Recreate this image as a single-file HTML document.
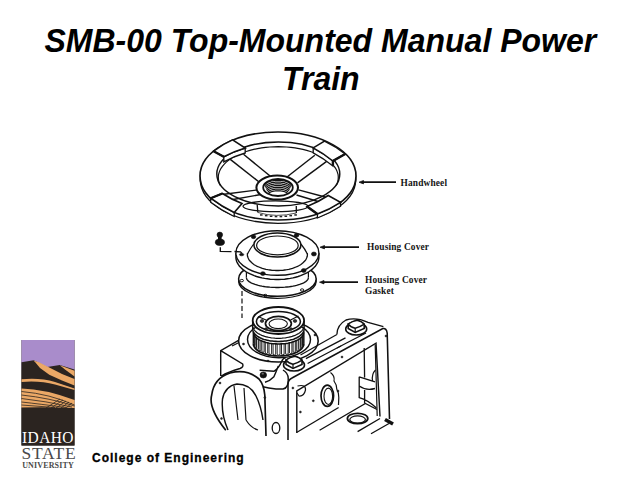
<!DOCTYPE html>
<html><head><meta charset="utf-8">
<style>
html,body{margin:0;padding:0;background:#fff;}
body{width:638px;height:479px;position:relative;overflow:hidden;font-family:"Liberation Sans",sans-serif;}
.t{position:absolute;white-space:nowrap;color:#000;}
#t1{left:44.5px;top:22px;font-size:32px;font-weight:bold;font-style:italic;transform:scaleY(1.05);transform-origin:0 7px;}
#t2{left:282px;top:60px;font-size:32px;font-weight:bold;font-style:italic;transform:scaleY(1.05);transform-origin:0 7px;}
#foot{left:92px;top:451.3px;font-size:12px;font-weight:bold;letter-spacing:1px;-webkit-text-stroke:0.3px #000;}
.lb{position:absolute;white-space:nowrap;font-family:"Liberation Serif",serif;font-weight:bold;font-size:9.4px;letter-spacing:0.15px;color:#151515;}
</style></head><body>
<div class="t" id="t1">SMB-00 Top-Mounted Manual Power</div>
<div class="t" id="t2">Train</div>
<svg width="638" height="479" viewBox="0 0 638 479" style="position:absolute;left:0;top:0"><ellipse cx="278" cy="179.5" rx="77.7" ry="43.8" fill="#fff" stroke="#111" stroke-width="1.32"/>
<ellipse cx="278" cy="176" rx="78" ry="44" fill="#fff" stroke="#111" stroke-width="1.68"/>
<ellipse cx="278.3" cy="174" rx="61.5" ry="32" fill="none" stroke="#111" stroke-width="1.44"/>
<path d="M220.3,185.5 L219.4,183.4 L218.7,181.2 L218.4,179.1 L218.3,176.9 L218.5,174.7 L219.1,172.6 L219.9,170.4 L221.0,168.3 L222.4,166.3 L224.1,164.3 L226.0,162.4 L228.2,160.5 L230.7,158.8 L233.4,157.1 L236.3,155.5 L239.4,154.0 L242.7,152.7 L246.2,151.5 L249.9,150.4 L253.7,149.4 L257.6,148.6 L261.6,147.9 L265.7,147.4 L269.9,147.0 L274.1,146.8 L278.3,146.7 L282.5,146.8 L286.7,147.0 L290.9,147.4 L295.0,147.9 L299.0,148.6 L302.9,149.4 L306.7,150.4 L310.4,151.5 L313.9,152.7 L317.2,154.0 L320.3,155.5 L323.2,157.1 L325.9,158.8 L328.4,160.5 L330.6,162.4 L332.5,164.3 L334.2,166.3 L335.6,168.3 L336.7,170.4 L337.5,172.6 L338.1,174.7 L338.3,176.9 L338.2,179.1 L337.9,181.2 L337.2,183.4 L336.3,185.5" fill="none" stroke="#111" stroke-width="1.20" />
<path d="M230.3,159.4 L258.8,181.8" fill="none" stroke="#111" stroke-width="1.44" />
<path d="M243.5,154.3 L271,176.7" fill="none" stroke="#111" stroke-width="1.44" />
<path d="M314.8,155.3 L287.3,176.7" fill="none" stroke="#111" stroke-width="1.44" />
<path d="M328,160.4 L297.5,182.8" fill="none" stroke="#111" stroke-width="1.44" />
<path d="M222,194.5 L257.8,189.9" fill="none" stroke="#111" stroke-width="1.44" />
<path d="M230.3,200 L260.8,194.5" fill="none" stroke="#111" stroke-width="1.44" />
<path d="M298.5,189.9 L325,197" fill="none" stroke="#111" stroke-width="1.44" />
<path d="M296.5,195 L318,201.5" fill="none" stroke="#111" stroke-width="1.44" />
<path d="M223.8,156.8 Q234.0,151.3 245.2,148 L245.2,153 Q234.0,156.3 223.8,161.8 Z" fill="#fff" stroke="#111" stroke-width="1.32" />
<path d="M213.6,151.2 Q222.3,144.3 232.6,139.9 L245.2,148 Q234.0,151.3 223.8,156.8 Z" fill="#fff" stroke="#111" stroke-width="1.56" />
<path d="M313.2,147.9 Q323.7,153.5 332.9,161 L332.9,166 Q323.7,158.5 313.2,152.9 Z" fill="#fff" stroke="#111" stroke-width="1.32" />
<path d="M324.5,141.1 Q335.6,146.3 345.2,154 L332.9,161 Q323.7,153.5 313.2,147.9 Z" fill="#fff" stroke="#111" stroke-width="1.56" />
<path d="M340.5,202.3 Q329.6,209.5 317.4,214 L317.4,218 Q329.6,213.5 340.5,206.3 Z" fill="#fff" stroke="#111" stroke-width="1.32" />
<path d="M340.5,202.3 Q329.6,209.5 317.4,214 L307,206.5 Q318.2,202.1 328.2,195.5 Z" fill="#fff" stroke="#111" stroke-width="1.56" />
<path d="M234.2,212.5 Q221.7,206.6 210.7,198.2 L210.7,202.2 Q221.7,210.6 234.2,216.5 Z" fill="#fff" stroke="#111" stroke-width="1.32" />
<path d="M234.2,212.5 Q221.7,206.6 210.7,198.2 L222.4,193.5 Q231.7,199.6 242,203.5 Z" fill="#fff" stroke="#111" stroke-width="1.56" />
<path d="M345.2,154 L332.9,161 L332.9,165" fill="none" stroke="#111" stroke-width="2.40" />
<path d="M213.6,151.2 L223.8,156.8" fill="none" stroke="#111" stroke-width="2.16" />
<path d="M210.7,198.2 L222.4,193.5" fill="none" stroke="#111" stroke-width="2.16" />
<path d="M317.4,214 L307,206.5" fill="none" stroke="#111" stroke-width="2.40" />
<ellipse cx="275.5" cy="206.3" rx="32.5" ry="5.4" fill="none" stroke="#111" stroke-width="1.32"/>
<path d="M257.2,204.5 L257.8,212.5 M296.3,206 L296.3,213" fill="none" stroke="#111" stroke-width="1.32" />
<path d="M258,212.5 Q276,218 296.3,213" fill="none" stroke="#111" stroke-width="0.72" />
<rect x="260.0" y="214.2" width="2.6" height="1.5" fill="#222"/>
<rect x="264.9" y="214.9" width="2.6" height="1.5" fill="#222"/>
<rect x="269.8" y="215.5" width="2.6" height="1.5" fill="#222"/>
<rect x="274.7" y="215.8" width="2.6" height="1.5" fill="#222"/>
<rect x="279.6" y="215.8" width="2.6" height="1.5" fill="#222"/>
<rect x="284.5" y="215.5" width="2.6" height="1.5" fill="#222"/>
<rect x="289.4" y="214.9" width="2.6" height="1.5" fill="#222"/>
<rect x="294.3" y="214.2" width="2.6" height="1.5" fill="#222"/>
<ellipse cx="277.2" cy="187.6" rx="20.8" ry="12" fill="#fff" stroke="#111" stroke-width="2.04"/>
<ellipse cx="278" cy="187.5" rx="14.8" ry="8.5" fill="#fff" stroke="#111" stroke-width="1.80"/>
<path d="M264.4,185.4 L264.6,185.0 L264.9,184.6 L265.2,184.2 L265.6,183.8 L266.0,183.4 L266.6,183.0 L267.1,182.7 L267.7,182.4 L268.4,182.0 L269.1,181.8 L269.9,181.5 L270.7,181.2 L271.5,181.0 L272.4,180.8 L273.3,180.7 L274.2,180.5 L275.1,180.4 L276.1,180.4 L277.0,180.3 L278.0,180.3 L279.0,180.3 L279.9,180.4 L280.9,180.4 L281.8,180.5 L282.7,180.7 L283.6,180.8 L284.5,181.0 L285.3,181.2 L286.1,181.5 L286.9,181.8 L287.6,182.0 L288.3,182.4 L288.9,182.7 L289.4,183.0 L290.0,183.4 L290.4,183.8 L290.8,184.2 L291.1,184.6 L291.4,185.0 L291.6,185.4" fill="none" stroke="#111" stroke-width="1.20" />
<path d="M265.1,186.8 L265.3,186.4 L265.5,186.0 L265.9,185.6 L266.2,185.3 L266.7,184.9 L267.1,184.6 L267.7,184.3 L268.3,184.0 L268.9,183.7 L269.6,183.4 L270.3,183.1 L271.1,182.9 L271.8,182.7 L272.7,182.5 L273.5,182.4 L274.4,182.3 L275.3,182.2 L276.2,182.1 L277.1,182.1 L278.0,182.1 L278.9,182.1 L279.8,182.1 L280.7,182.2 L281.6,182.3 L282.5,182.4 L283.3,182.5 L284.2,182.7 L284.9,182.9 L285.7,183.1 L286.4,183.4 L287.1,183.7 L287.7,184.0 L288.3,184.3 L288.9,184.6 L289.3,184.9 L289.8,185.3 L290.1,185.6 L290.5,186.0 L290.7,186.4 L290.9,186.8" fill="none" stroke="#111" stroke-width="1.20" />
<path d="M265.8,188.2 L266.0,187.8 L266.2,187.5 L266.5,187.1 L266.9,186.8 L267.3,186.4 L267.7,186.1 L268.2,185.8 L268.8,185.6 L269.4,185.3 L270.0,185.0 L270.7,184.8 L271.4,184.6 L272.2,184.4 L273.0,184.3 L273.8,184.1 L274.6,184.0 L275.4,183.9 L276.3,183.9 L277.1,183.8 L278.0,183.8 L278.9,183.8 L279.7,183.9 L280.6,183.9 L281.4,184.0 L282.2,184.1 L283.0,184.3 L283.8,184.4 L284.6,184.6 L285.3,184.8 L286.0,185.0 L286.6,185.3 L287.2,185.6 L287.8,185.8 L288.3,186.1 L288.7,186.4 L289.1,186.8 L289.5,187.1 L289.8,187.5 L290.0,187.8 L290.2,188.2" fill="none" stroke="#111" stroke-width="1.20" />
<path d="M266.5,189.6 L266.6,189.2 L266.9,188.9 L267.2,188.6 L267.5,188.3 L267.9,188.0 L268.3,187.7 L268.8,187.4 L269.3,187.2 L269.9,186.9 L270.5,186.7 L271.1,186.5 L271.8,186.3 L272.5,186.1 L273.2,186.0 L274.0,185.8 L274.8,185.7 L275.6,185.7 L276.4,185.6 L277.2,185.6 L278.0,185.6 L278.8,185.6 L279.6,185.6 L280.4,185.7 L281.2,185.7 L282.0,185.8 L282.8,186.0 L283.5,186.1 L284.2,186.3 L284.9,186.5 L285.5,186.7 L286.1,186.9 L286.7,187.2 L287.2,187.4 L287.7,187.7 L288.1,188.0 L288.5,188.3 L288.8,188.6 L289.1,188.9 L289.4,189.2 L289.5,189.6" fill="none" stroke="#111" stroke-width="1.20" />
<path d="M267.2,190.9 L267.3,190.6 L267.5,190.3 L267.8,190.1 L268.1,189.8 L268.5,189.5 L268.9,189.2 L269.3,189.0 L269.8,188.8 L270.4,188.5 L270.9,188.3 L271.5,188.1 L272.2,188.0 L272.8,187.8 L273.5,187.7 L274.2,187.6 L275.0,187.5 L275.7,187.4 L276.5,187.3 L277.2,187.3 L278.0,187.3 L278.8,187.3 L279.5,187.3 L280.3,187.4 L281.0,187.5 L281.8,187.6 L282.5,187.7 L283.2,187.8 L283.8,188.0 L284.5,188.1 L285.1,188.3 L285.6,188.5 L286.2,188.8 L286.7,189.0 L287.1,189.2 L287.5,189.5 L287.9,189.8 L288.2,190.1 L288.5,190.3 L288.7,190.6 L288.8,190.9" fill="none" stroke="#111" stroke-width="1.20" />
<path d="M267.9,192.3 L268.0,192.0 L268.2,191.8 L268.5,191.5 L268.7,191.3 L269.1,191.0 L269.5,190.8 L269.9,190.6 L270.3,190.4 L270.8,190.2 L271.4,190.0 L271.9,189.8 L272.5,189.7 L273.2,189.5 L273.8,189.4 L274.5,189.3 L275.2,189.2 L275.9,189.1 L276.6,189.1 L277.3,189.1 L278.0,189.1 L278.7,189.1 L279.4,189.1 L280.1,189.1 L280.8,189.2 L281.5,189.3 L282.2,189.4 L282.8,189.5 L283.5,189.7 L284.1,189.8 L284.6,190.0 L285.2,190.2 L285.7,190.4 L286.1,190.6 L286.5,190.8 L286.9,191.0 L287.3,191.3 L287.5,191.5 L287.8,191.8 L288.0,192.0 L288.1,192.3" fill="none" stroke="#111" stroke-width="1.20" />
<path d="M268.5,193.7 L268.7,193.5 L268.9,193.2 L269.1,193.0 L269.4,192.8 L269.7,192.6 L270.0,192.3 L270.4,192.1 L270.9,192.0 L271.3,191.8 L271.8,191.6 L272.4,191.5 L272.9,191.3 L273.5,191.2 L274.1,191.1 L274.7,191.0 L275.4,190.9 L276.0,190.9 L276.7,190.8 L277.3,190.8 L278.0,190.8 L278.7,190.8 L279.3,190.8 L280.0,190.9 L280.6,190.9 L281.3,191.0 L281.9,191.1 L282.5,191.2 L283.1,191.3 L283.6,191.5 L284.2,191.6 L284.7,191.8 L285.1,192.0 L285.6,192.1 L286.0,192.3 L286.3,192.6 L286.6,192.8 L286.9,193.0 L287.1,193.2 L287.3,193.5 L287.5,193.7" fill="none" stroke="#111" stroke-width="1.20" />
<path d="M220.7,376 L220.7,350.7 L238.5,340.5 L244,338 M220.7,350.7 L242.6,363.9 Q244,367 240,368.5 Q228,372 221.3,376" fill="#fff" stroke="#111" stroke-width="1.44" />
<path d="M232,346 L240,342" fill="none" stroke="#111" stroke-width="1.32" />
<path d="M244,338 Q246,333 252,331" fill="none" stroke="#111" stroke-width="1.20" />
<ellipse cx="278.4" cy="341" rx="39.8" ry="21" fill="#fff" stroke="#111" stroke-width="1.56"/>
<ellipse cx="279" cy="339.5" rx="31.5" ry="18.3" fill="#fff" stroke="#111" stroke-width="1.44"/>
<ellipse cx="243.5" cy="344" rx="1.1" ry="0.9" fill="#222" stroke="#111" stroke-width="0.48"/>
<ellipse cx="315" cy="335" rx="1.1" ry="0.9" fill="#222" stroke="#111" stroke-width="0.48"/>
<ellipse cx="268" cy="361" rx="1.1" ry="0.9" fill="#222" stroke="#111" stroke-width="0.48"/>
<ellipse cx="301" cy="359" rx="1.1" ry="0.9" fill="#222" stroke="#111" stroke-width="0.48"/>
<path d="M303.9,343.5 L303.8,344.4 L303.7,345.2 L303.3,346.1 L302.9,346.9 L302.4,347.8 L301.7,348.6 L300.9,349.4 L300.1,350.1 L299.1,350.8 L298.0,351.5 L296.8,352.2 L295.5,352.8 L294.2,353.4 L292.7,353.9 L291.2,354.3 L289.7,354.7 L288.1,355.1 L286.4,355.4 L284.7,355.6 L283.0,355.8 L281.2,355.9 L279.5,356.0 L277.7,356.0 L276.0,355.9 L274.2,355.8 L272.5,355.6 L270.8,355.4 L269.1,355.1 L267.5,354.7 L266.0,354.3 L264.5,353.9 L263.0,353.4 L261.7,352.8 L260.4,352.2 L259.2,351.5 L258.1,350.8 L257.1,350.1 L256.3,349.4 L255.5,348.6 L254.8,347.8 L254.3,346.9 L253.9,346.1 L253.5,345.2 L253.4,344.4 L253.3,343.5" fill="#fff" stroke="#111" stroke-width="1.68" />
<path d="M253.3,331.5 L253.3,343.5 M303.9,331.5 L303.9,343.5" fill="none" stroke="#111" stroke-width="1.32" />
<path d="M302.4,334.9 L302.4,345.0 Q302.9,346.2 303.3,345.0 L303.3,334.9" fill="none" stroke="#111" stroke-width="0.90" />
<path d="M301.0,336.8 L301.0,346.9 Q301.6,348.1 302.3,346.9 L302.3,336.8" fill="none" stroke="#111" stroke-width="0.90" />
<path d="M298.9,338.5 L298.9,348.8 Q299.7,350.0 300.6,348.8 L300.6,338.5" fill="none" stroke="#111" stroke-width="0.90" />
<path d="M296.3,340.1 L296.3,350.4 Q297.2,351.6 298.2,350.4 L298.2,340.1" fill="none" stroke="#111" stroke-width="0.90" />
<path d="M293.1,341.4 L293.1,351.8 Q294.2,353.0 295.3,351.8 L295.3,341.4" fill="none" stroke="#111" stroke-width="0.90" />
<path d="M289.5,342.5 L289.5,353.0 Q290.7,354.2 291.9,353.0 L291.9,342.5" fill="none" stroke="#111" stroke-width="0.90" />
<path d="M285.6,343.3 L285.6,353.8 Q286.9,355.0 288.2,353.8 L288.2,343.3" fill="none" stroke="#111" stroke-width="0.90" />
<path d="M281.5,343.8 L281.5,354.3 Q282.8,355.5 284.1,354.3 L284.1,343.8" fill="none" stroke="#111" stroke-width="0.90" />
<path d="M277.2,344.0 L277.2,354.5 Q278.6,355.7 280.0,354.5 L280.0,344.0" fill="none" stroke="#111" stroke-width="0.90" />
<path d="M273.1,343.8 L273.1,354.3 Q274.4,355.5 275.7,354.3 L275.7,343.8" fill="none" stroke="#111" stroke-width="0.90" />
<path d="M269.0,343.3 L269.0,353.8 Q270.3,355.0 271.6,353.8 L271.6,343.3" fill="none" stroke="#111" stroke-width="0.90" />
<path d="M265.3,342.5 L265.3,353.0 Q266.5,354.2 267.7,353.0 L267.7,342.5" fill="none" stroke="#111" stroke-width="0.90" />
<path d="M261.9,341.4 L261.9,351.8 Q263.0,353.0 264.1,351.8 L264.1,341.4" fill="none" stroke="#111" stroke-width="0.90" />
<path d="M259.0,340.1 L259.0,350.4 Q260.0,351.6 260.9,350.4 L260.9,340.1" fill="none" stroke="#111" stroke-width="0.90" />
<path d="M256.6,338.5 L256.6,348.8 Q257.5,350.0 258.3,348.8 L258.3,338.5" fill="none" stroke="#111" stroke-width="0.90" />
<path d="M254.9,336.8 L254.9,346.9 Q255.6,348.1 256.2,346.9 L256.2,336.8" fill="none" stroke="#111" stroke-width="0.90" />
<path d="M253.9,334.9 L253.9,345.0 Q254.3,346.2 254.8,345.0 L254.8,334.9" fill="none" stroke="#111" stroke-width="0.90" />
<path d="M303.6,332.5 L303.5,333.3 L303.4,334.1 L303.1,334.9 L302.6,335.7 L302.1,336.4 L301.4,337.2 L300.7,337.9 L299.8,338.6 L298.8,339.3 L297.8,339.9 L296.6,340.5 L295.3,341.0 L294.0,341.6 L292.6,342.0 L291.1,342.5 L289.6,342.8 L288.0,343.2 L286.3,343.4 L284.6,343.7 L282.9,343.8 L281.2,343.9 L279.5,344.0 L277.7,344.0 L276.0,343.9 L274.3,343.8 L272.6,343.7 L270.9,343.4 L269.2,343.2 L267.6,342.8 L266.1,342.5 L264.6,342.0 L263.2,341.6 L261.9,341.0 L260.6,340.5 L259.4,339.9 L258.4,339.3 L257.4,338.6 L256.5,337.9 L255.8,337.2 L255.1,336.4 L254.6,335.7 L254.1,334.9 L253.8,334.1 L253.7,333.3 L253.6,332.5" fill="none" stroke="#111" stroke-width="1.56" />
<path d="M304.1,329.0 L304.0,329.9 L303.8,330.7 L303.5,331.6 L303.1,332.4 L302.6,333.3 L301.9,334.1 L301.1,334.9 L300.2,335.6 L299.2,336.3 L298.1,337.0 L296.9,337.7 L295.6,338.3 L294.2,338.9 L292.8,339.4 L291.2,339.8 L289.7,340.2 L288.0,340.6 L286.3,340.9 L284.6,341.1 L282.9,341.3 L281.1,341.4 L279.3,341.5 L277.5,341.5 L275.7,341.4 L273.9,341.3 L272.2,341.1 L270.5,340.9 L268.8,340.6 L267.1,340.2 L265.5,339.8 L264.0,339.4 L262.6,338.9 L261.2,338.3 L259.9,337.7 L258.7,337.0 L257.6,336.3 L256.6,335.6 L255.7,334.9 L254.9,334.1 L254.2,333.3 L253.7,332.4 L253.3,331.6 L253.0,330.7 L252.8,329.9 L252.7,329.0" fill="#fff" stroke="#111" stroke-width="1.56" />
<path d="M252.7,320.5 L252.7,329 M304.1,320.5 L304.1,329" fill="none" stroke="#111" stroke-width="1.44" />
<path d="M303.8,327.1 L303.6,327.9 L303.2,328.8 L302.8,329.6 L302.2,330.4 L301.5,331.2 L300.6,332.0 L299.7,332.8 L298.7,333.5 L297.5,334.1 L296.3,334.8 L295.0,335.4 L293.5,335.9 L292.1,336.4 L290.5,336.8 L288.9,337.2 L287.2,337.5 L285.5,337.8 L283.8,338.0 L282.0,338.2 L280.2,338.3 L278.4,338.3 L276.6,338.3 L274.8,338.2 L273.0,338.0 L271.3,337.8 L269.6,337.5 L267.9,337.2 L266.3,336.8 L264.7,336.4 L263.3,335.9 L261.8,335.4 L260.5,334.8 L259.3,334.1 L258.1,333.5 L257.1,332.8 L256.2,332.0 L255.3,331.2 L254.6,330.4 L254.0,329.6 L253.6,328.8 L253.2,327.9 L253.0,327.1" fill="none" stroke="#111" stroke-width="1.20" />
<ellipse cx="278.4" cy="320.5" rx="25.7" ry="13.5" fill="#fff" stroke="#111" stroke-width="1.80"/>
<ellipse cx="278.4" cy="321.5" rx="22" ry="10" fill="none" stroke="#111" stroke-width="1.56"/>
<ellipse cx="278.4" cy="323.5" rx="13" ry="7.2" fill="none" stroke="#111" stroke-width="1.68"/>
<ellipse cx="278.2" cy="323.8" rx="9.2" ry="4.8" fill="none" stroke="#111" stroke-width="1.08"/>
<ellipse cx="262" cy="321" rx="1.8" ry="1.4400000000000002" fill="#333" stroke="#111" stroke-width="0.60"/>
<ellipse cx="295" cy="321" rx="1.8" ry="1.4400000000000002" fill="#333" stroke="#111" stroke-width="0.60"/>
<ellipse cx="266" cy="329" rx="1.5" ry="1.2000000000000002" fill="#333" stroke="#111" stroke-width="0.60"/>
<ellipse cx="291" cy="329" rx="1.5" ry="1.2000000000000002" fill="#333" stroke="#111" stroke-width="0.60"/>
<path d="M258,316.5 L266,320 M298.5,316 L290.5,320" fill="none" stroke="#111" stroke-width="1.20" />
<path d="M225.8,430.3 Q208,408 211.7,395 Q214,378 230,373 Q247,368.5 259,379 Q264,385 264.8,395 L266,436" fill="none" stroke="#111" stroke-width="1.68" />
<path d="M228,430 Q221,414 222.5,399 Q225,386 237,384 Q250,384 256,396 Q261,406 263,420" fill="none" stroke="#111" stroke-width="1.44" />
<path d="M234,386 L238,420 M244,388 L246,420 M246,420 Q251,428 258,430" fill="none" stroke="#111" stroke-width="1.20" />
<ellipse cx="220" cy="383" rx="1" ry="1" fill="#222" stroke="#111" stroke-width="0.48"/>
<ellipse cx="221.5" cy="418.5" rx="1" ry="1" fill="#222" stroke="#111" stroke-width="0.48"/>
<ellipse cx="264.8" cy="397.6" rx="1" ry="1" fill="#222" stroke="#111" stroke-width="0.48"/>
<path d="M259.6,370.2 L273.9,371.3 Q279,368 281.6,361.5 Q283,358 286,357.5 M278.3,365.9 Q276,372 273.9,376.8 Q270,381 265,382.3 M283,370 Q288,373 288.2,378 Q289,388 283,389 L276,389 Q268,388 263,386.7" fill="none" stroke="#111" stroke-width="1.44" />
<ellipse cx="263.3" cy="375" rx="3.3" ry="3" fill="#111" stroke="#111" stroke-width="0.60"/>
<ellipse cx="262.8" cy="373.8" rx="1.3" ry="1" fill="#777" stroke="#111" stroke-width="0.36"/>
<path d="M288,440 L288,384 Q288,380 292,378 L382.8,328.6 Q386.5,328 387.2,333 L389.5,419" fill="none" stroke="#111" stroke-width="1.56" />
<path d="M296.8,433 L296.8,391 L376,343.2 L380,416.5" fill="none" stroke="#111" stroke-width="1.44" />
<path d="M297,432.3 L338.6,407.5" fill="none" stroke="#111" stroke-width="1.32" />
<path d="M319.6,430.2 L365.4,403.4 L377,409.5 M357.6,431.6 L380,418.5 M371,433.7 L389,423.5" fill="none" stroke="#111" stroke-width="1.32" />
<path d="M297.5,386 Q306,384 305.5,390 Q304,396.5 299,396 L297,393" fill="none" stroke="#111" stroke-width="1.20" />
<path d="M305.9,358.6 L345.5,337.9 M307.6,363.5 L346.5,343 L366,333" fill="none" stroke="#111" stroke-width="1.32" />
<path d="M336.9,334.4 Q337,325 346,320 Q356,317 368,322.3 L383.4,326.7" fill="none" stroke="#111" stroke-width="1.32" />
<path d="M300.5,355 L336.9,334.4" fill="none" stroke="#111" stroke-width="1.20" />
<path d="M337,348 L341,346" fill="none" stroke="#111" stroke-width="1.08" />
<ellipse cx="356.2" cy="329" rx="10.5" ry="6" fill="#fff" stroke="#111" stroke-width="1.56"/>
<path d="M348.2,324.0 L357.2,320.2 L364.2,324.2 L364.2,328.5 L355.2,332.5 L348.2,328.5 Z" fill="#fff" stroke="#111" stroke-width="1.56" />
<path d="M348.2,324 Q352.2,321 357.2,320.2 Q362.2,321.5 364.2,324.2 Q360.2,327 355.2,328.2 Q350.2,327 348.2,324 Z" fill="#fff" stroke="#111" stroke-width="1.44" />
<path d="M355.2,328.2 L355.2,332.5" fill="none" stroke="#111" stroke-width="1.20" />
<ellipse cx="294" cy="365" rx="10.5" ry="6" fill="#fff" stroke="#111" stroke-width="1.56"/>
<path d="M286.0,360.0 L295.0,356.2 L302.0,360.2 L302.0,364.5 L293.0,368.5 L286.0,364.5 Z" fill="#fff" stroke="#111" stroke-width="1.56" />
<path d="M286,360 Q290,357 295,356.2 Q300,357.5 302,360.2 Q298,363 293,364.2 Q288,363 286,360 Z" fill="#fff" stroke="#111" stroke-width="1.44" />
<path d="M293,364.2 L293,368.5" fill="none" stroke="#111" stroke-width="1.20" />
<path d="M364.2,348 L364.6,377.5 M359.2,376.8 L375,381.8 M359.2,376.8 L359.2,386 Q366,391 375,388.5 M359.2,386 L359.2,397.6 Q368,400 376.4,408 M364.6,390 L364.6,403.5" fill="none" stroke="#111" stroke-width="1.32" />
<path d="M375.5,370 Q371.5,374 372.5,381" fill="none" stroke="#111" stroke-width="1.20" />
<path d="M375.2,345 L377.2,416" fill="none" stroke="#111" stroke-width="1.20" />
<path d="M330.5,372.6 Q335,376 334,381 Q337,385 336.8,389.3 Q339,393 338.8,397.6 L338.5,405" fill="none" stroke="#111" stroke-width="1.20" />
<ellipse cx="327.3" cy="395.8" rx="6.3" ry="10.6" fill="none" stroke="#111" stroke-width="1.68"/>
<ellipse cx="328.3" cy="396.3" rx="4.3" ry="8.2" fill="none" stroke="#111" stroke-width="1.08"/>
<ellipse cx="292.9" cy="388" rx="1" ry="1" fill="#222" stroke="#111" stroke-width="0.48"/>
<ellipse cx="313.3" cy="400.8" rx="1" ry="1" fill="#222" stroke="#111" stroke-width="0.48"/>
<ellipse cx="338" cy="391" rx="1" ry="1" fill="#222" stroke="#111" stroke-width="0.48"/>
<ellipse cx="342" cy="357" rx="1" ry="1" fill="#222" stroke="#111" stroke-width="0.48"/>
<ellipse cx="300.4" cy="412" rx="1" ry="1" fill="#222" stroke="#111" stroke-width="0.48"/>
<ellipse cx="386" cy="336" rx="1" ry="1" fill="#222" stroke="#111" stroke-width="0.48"/>
<ellipse cx="357.6" cy="418.5" rx="10.2" ry="5.2" fill="none" stroke="#111" stroke-width="1.80"/>
<ellipse cx="357.6" cy="419.5" rx="7.8" ry="3.6" fill="none" stroke="#111" stroke-width="1.20"/>
<path d="M385,419.5 L393,424" fill="none" stroke="#111" stroke-width="3.60" />
<ellipse cx="276" cy="428" rx="3.8" ry="5.5" fill="none" stroke="#111" stroke-width="1.32"/>
<ellipse cx="277.4" cy="281" rx="38.8" ry="17.3" fill="#fff" stroke="#111" stroke-width="1.32"/>
<ellipse cx="277.4" cy="279" rx="38.8" ry="17.3" fill="#fff" stroke="#111" stroke-width="1.56"/>
<path d="M308.4,277.5 L308.3,278.2 L308.1,278.9 L307.7,279.6 L307.2,280.3 L306.5,280.9 L305.7,281.6 L304.8,282.2 L303.7,282.8 L302.5,283.4 L301.1,283.9 L299.7,284.4 L298.1,284.9 L296.5,285.4 L294.7,285.8 L292.9,286.2 L291.0,286.5 L289.0,286.8 L287.0,287.0 L284.9,287.2 L282.8,287.3 L280.6,287.4 L278.5,287.5 L276.3,287.5 L274.2,287.4 L272.0,287.3 L269.9,287.2 L267.8,287.0 L265.8,286.8 L263.8,286.5 L261.9,286.2 L260.1,285.8 L258.3,285.4 L256.7,284.9 L255.1,284.4 L253.7,283.9 L252.3,283.4 L251.1,282.8 L250.0,282.2 L249.1,281.6 L248.3,280.9 L247.6,280.3 L247.1,279.6 L246.7,278.9 L246.5,278.2 L246.4,277.5" fill="none" stroke="#111" stroke-width="1.32" />
<path d="M246.4,277.5 L246.4,270 M308.4,277.5 L308.4,270" fill="none" stroke="#111" stroke-width="1.20" />
<ellipse cx="241.8" cy="280.6" rx="1.7" ry="1.2" fill="none" stroke="#111" stroke-width="0.96"/>
<ellipse cx="302.1" cy="290" rx="1.7" ry="1.2" fill="none" stroke="#111" stroke-width="0.96"/>
<ellipse cx="265.3" cy="295.5" rx="1.7" ry="1.2" fill="none" stroke="#111" stroke-width="0.96"/>
<path d="M318.9,257.0 L318.8,258.6 L318.5,260.1 L318.0,261.7 L317.3,263.2 L316.4,264.7 L315.3,266.2 L314.0,267.6 L312.6,268.9 L311.0,270.2 L309.2,271.5 L307.3,272.6 L305.2,273.7 L302.9,274.7 L300.6,275.7 L298.1,276.5 L295.6,277.2 L292.9,277.9 L290.2,278.4 L287.4,278.8 L284.6,279.2 L281.7,279.4 L278.8,279.5 L276.0,279.5 L273.1,279.4 L270.2,279.2 L267.4,278.8 L264.6,278.4 L261.9,277.9 L259.2,277.2 L256.6,276.5 L254.2,275.7 L251.9,274.7 L249.6,273.7 L247.5,272.6 L245.6,271.5 L243.8,270.2 L242.2,268.9 L240.8,267.6 L239.5,266.2 L238.4,264.7 L237.5,263.2 L236.8,261.7 L236.3,260.1 L236.0,258.6 L235.9,257.0" fill="#fff" stroke="#111" stroke-width="1.44" />
<path d="M235.9,253 L235.9,257 M318.9,253 L318.9,257" fill="none" stroke="#111" stroke-width="1.32" />
<ellipse cx="277.4" cy="253" rx="41.5" ry="22.3" fill="#fff" stroke="#111" stroke-width="1.44"/>
<path d="M307.3,253.1 L307.4,254.2 L307.4,255.4 L307.2,256.5 L306.8,257.6 L306.3,258.7 L305.7,259.8 L305.0,260.8 L304.0,261.8 L303.0,262.8 L301.8,263.8 L300.6,264.7 L299.2,265.5 L297.6,266.3 L296.0,267.0 L294.3,267.7 L292.5,268.3 L290.7,268.8 L288.8,269.3 L286.8,269.7 L284.7,270.0 L282.7,270.3 L280.6,270.4 L278.5,270.5 L276.3,270.5 L274.2,270.4 L272.1,270.3 L270.1,270.0 L268.0,269.7 L266.0,269.3 L264.1,268.8 L262.3,268.3 L260.5,267.7 L258.8,267.0 L257.2,266.3 L255.6,265.5 L254.2,264.7 L253.0,263.8 L251.8,262.8 L250.8,261.8 L249.8,260.8 L249.1,259.8 L248.5,258.7 L248.0,257.6 L247.6,256.5 L247.4,255.4 L247.4,254.2 L247.5,253.1" fill="none" stroke="#111" stroke-width="1.32" />
<path d="M247.4,254 Q250,249 253.7,244 M307.4,254 Q305,249 300.9,244" fill="none" stroke="#111" stroke-width="1.20" />
<ellipse cx="277.4" cy="245" rx="23.5" ry="12" fill="#fff" stroke="#111" stroke-width="1.56"/>
<ellipse cx="277.4" cy="245.4" rx="20.8" ry="9.4" fill="none" stroke="#111" stroke-width="1.20"/>
<ellipse cx="253.5" cy="236.8" rx="2.3" ry="1.8399999999999999" fill="#111" stroke="#111" stroke-width="0.60"/>
<ellipse cx="296.6" cy="235.2" rx="2.3" ry="1.8399999999999999" fill="#111" stroke="#111" stroke-width="0.60"/>
<ellipse cx="313.9" cy="254" rx="2.5" ry="2.0" fill="#111" stroke="#111" stroke-width="0.60"/>
<ellipse cx="303.7" cy="270.5" rx="2.4" ry="1.92" fill="#111" stroke="#111" stroke-width="0.60"/>
<ellipse cx="262.9" cy="273.6" rx="2.4" ry="1.92" fill="#111" stroke="#111" stroke-width="0.60"/>
<ellipse cx="241.6" cy="254.6" rx="2.2" ry="1.2" fill="#111" stroke="#111" stroke-width="0.60"/>
<path d="M219.8,236 L219.8,241" fill="none" stroke="#111" stroke-width="3.60" />
<ellipse cx="219.8" cy="234.8" rx="2.8" ry="2.7" fill="#111" stroke="#111" stroke-width="0.60"/>
<ellipse cx="219.9" cy="242.3" rx="4.6" ry="3.2" fill="#111" stroke="#111" stroke-width="0.60"/>
<path d="M220.3,247.3 L220.3,251.3 L231.5,251.6 M234.5,251.5 L240.5,251.8 L242,253.5" fill="none" stroke="#111" stroke-width="1.32" />
<path d="M242,291 L242,318" fill="none" stroke="#111" stroke-width="1.20" stroke-dasharray="5,2.5"/>
<path d="M362,182.2 L396,182.2" fill="none" stroke="#111" stroke-width="1.74" />
<path d="M359,182.2 L363.5,180.5 L363.5,183.89999999999998 Z" fill="#111" stroke="#111" stroke-width="0.72" />
<path d="M323,247.2 L359,247.2" fill="none" stroke="#111" stroke-width="1.74" />
<path d="M320,247.2 L324.5,245.5 L324.5,248.89999999999998 Z" fill="#111" stroke="#111" stroke-width="0.72" />
<path d="M322.5,282.2 L358,282.2" fill="none" stroke="#111" stroke-width="1.74" />
<path d="M319.5,282.2 L324.0,280.5 L324.0,283.9 Z" fill="#111" stroke="#111" stroke-width="0.72" /></svg>
<div class="lb" style="left:400.5px;top:178.4px">Handwheel</div>
<div class="lb" style="left:367px;top:242px">Housing Cover</div>
<div class="lb" style="left:365px;top:275px;line-height:10.5px">Housing Cover<br>Gasket</div>

<svg width="638" height="479" viewBox="0 0 638 479" style="position:absolute;left:0;top:0">
<rect x="21.5" y="340" width="53" height="105.5" fill="#2b2420"/>
<rect x="21.5" y="340" width="53" height="30" fill="#a98ccb"/>
<path d="M21.5,362.3 L33.7,360.2 L47.2,367 L59.8,364.9 L74.5,369.6 L74.5,400 L21.5,400 Z" fill="#2b2420"/>
<path d="M33.5,360.4 L38.9,362.3 L49.3,367.5 L62,374 L74.5,379 L74.5,385.5 L62,380.5 L49.3,374.8 L40,368 L35,362 Z" fill="#eba866"/>
<path d="M59.8,365.3 L74.5,370.7 L74.5,376.5 L65,369.5 Z" fill="#eba866"/>
<path d="M21.5,379.3 Q40,377.5 55,382 L74.5,388.5 L74.5,390 L55,384.5 Q40,380.5 21.5,382 Z" fill="#eba866"/>
<path d="M21.5,388.5 Q45,389 74.5,400 L74.5,408 L21.5,408 Z" fill="#eba866"/>
<g stroke="#2b2420" stroke-width="0.8" fill="none">
<path d="M21.5,391.5 Q50,394 74.5,405 M21.5,395 Q50,398 74.5,406 M21.5,398.5 Q45,401 72,407 M21.5,402 Q40,404 66,407.5 M21.5,405 L55,407.5"/>
<path d="M46,408 L60,399 M51,408 L63,400 M56,408 L66,401 M61,408 L69,402 M66,408 L72,403"/>
</g>
<path d="M21.5,407.5 Q50,407 74.5,408 L74.5,445.5 L21.5,445.5 Z" fill="#2b2420"/>
</svg>
<div style="position:absolute;left:21px;top:428.5px;width:54px;text-align:center;font-family:'Liberation Serif',serif;font-size:15.5px;color:#fff;letter-spacing:0.4px;white-space:nowrap;transform:scaleY(1.05)">IDAHO</div>
<div style="position:absolute;left:21px;top:443px;width:56px;text-align:center;font-family:'Liberation Serif',serif;font-size:17.5px;color:#4a4a4a;letter-spacing:0.8px;white-space:nowrap">STATE</div>
<div style="position:absolute;left:21px;top:461px;width:54px;text-align:center;font-family:'Liberation Serif',serif;font-weight:bold;font-size:8px;color:#4a4a4a;letter-spacing:0.15px;white-space:nowrap">UNIVERSITY</div>
<div class="t" id="foot">College of Engineering</div>
</body></html>
